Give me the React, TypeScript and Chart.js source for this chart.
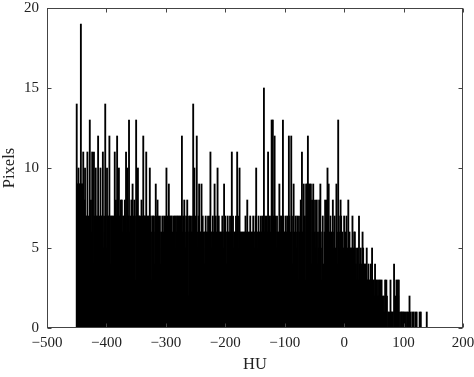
import React, { useEffect, useRef } from "react";
import { Chart, registerables } from "chart.js";

Chart.register(...registerables);

// Histogram of HU values, one bin per HU, first bin at HU -450
const binStart = -450;

// HU -450 .. -351
const countsA = [
  14, 9, 9, 10, 9, 9, 9, 19, 9, 9,
  9, 11, 7, 8, 10, 7, 3, 7, 11, 6,
  7, 5, 13, 7, 8, 6, 11, 7, 4, 11,
  7, 6, 10, 7, 5, 7, 12, 6, 7, 3,
  10, 7, 6, 7, 11, 5, 7, 6, 14, 7,
  5, 10, 7, 6, 7, 12, 7, 4, 7, 6,
  7, 5, 7, 6, 11, 7, 8, 7, 12, 6,
  7, 10, 7, 5, 8, 7, 8, 6, 7, 3,
  7, 8, 7, 11, 6, 10, 7, 7, 13, 6,
  7, 5, 8, 7, 9, 7, 6, 8, 7, 3,
];

// HU -350 .. -251
const countsB = [
  13, 7, 6, 10, 7, 7, 5, 7, 6, 8,
  7, 6, 12, 7, 7, 5, 7, 11, 6, 7,
  4, 7, 6, 10, 7, 6, 3, 7, 6, 7,
  7, 4, 6, 9, 7, 6, 8, 7, 4, 6,
  7, 4, 6, 5, 7, 4, 6, 7, 3, 6,
  7, 10, 6, 7, 5, 9, 7, 6, 7, 5,
  7, 6, 3, 7, 6, 7, 5, 7, 6, 7,
  6, 7, 4, 7, 6, 7, 5, 12, 6, 7,
  6, 8, 7, 5, 6, 7, 8, 6, 2, 7,
  6, 7, 5, 6, 7, 6, 14, 7, 10, 6,
];

// HU -250 .. -151
const countsC = [
  7, 6, 12, 5, 6, 7, 9, 6, 4, 6,
  9, 6, 7, 5, 6, 4, 6, 7, 6, 5,
  6, 7, 6, 3, 7, 11, 6, 5, 6, 7,
  6, 4, 9, 6, 7, 6, 5, 10, 6, 7,
  6, 5, 6, 2, 6, 7, 6, 5, 9, 6,
  7, 6, 4, 6, 7, 6, 5, 6, 7, 6,
  4, 11, 6, 7, 5, 6, 4, 6, 7, 6,
  11, 6, 5, 7, 10, 6, 4, 6, 5, 6,
  4, 6, 5, 6, 7, 4, 6, 8, 5, 6,
  4, 6, 7, 5, 6, 4, 6, 7, 6, 5,
];

// HU -150 .. -51
const countsD = [
  6, 7, 10, 6, 5, 6, 7, 6, 4, 6,
  7, 6, 5, 7, 6, 15, 6, 7, 4, 6,
  7, 6, 11, 6, 7, 4, 6, 7, 13, 6,
  13, 7, 6, 12, 7, 6, 5, 7, 6, 4,
  6, 9, 7, 6, 7, 5, 6, 13, 7, 6,
  4, 6, 7, 6, 5, 7, 6, 12, 7, 6,
  5, 12, 6, 4, 7, 9, 6, 3, 7, 6,
  5, 7, 6, 3, 7, 6, 5, 8, 6, 11,
  6, 4, 9, 6, 7, 3, 9, 6, 9, 12,
  9, 5, 9, 6, 9, 4, 8, 6, 9, 5,
];

// HU -50 .. 49
const countsE = [
  6, 8, 5, 6, 8, 4, 6, 5, 8, 6,
  9, 5, 3, 6, 7, 4, 2, 6, 8, 5,
  6, 8, 10, 5, 9, 6, 2, 7, 5, 6,
  3, 8, 5, 6, 7, 2, 5, 9, 6, 4,
  13, 7, 5, 6, 8, 7, 5, 6, 4, 5,
  7, 5, 6, 4, 7, 5, 3, 8, 5, 6,
  4, 5, 5, 4, 7, 3, 5, 6, 6, 4,
  5, 3, 4, 5, 3, 7, 4, 3, 5, 4,
  3, 6, 5, 3, 4, 3, 4, 3, 5, 3,
  3, 4, 3, 2, 3, 4, 3, 5, 3, 2,
];

// HU 50 .. 140
const countsF = [
  3, 2, 4, 3, 2, 3, 2, 3, 2, 3,
  2, 3, 2, 3, 1, 2, 1, 2, 1, 3,
  1, 3, 2, 0, 1, 0, 1, 0, 3, 1,
  1, 0, 1, 0, 4, 1, 2, 1, 3, 2,
  3, 2, 3, 0, 1, 0, 1, 1, 0, 1,
  1, 0, 1, 0, 1, 0, 1, 0, 1, 0,
  2, 0, 1, 0, 0, 1, 0, 1, 0, 0,
  1, 0, 1, 0, 0, 0, 0, 1, 0, 1,
  0, 0, 0, 0, 0, 0, 0, 0, 0, 1,
  0,
];

const xTicks = [-500, -400, -300, -200, -100, 0, 100, 200];
const yTicks = [0, 5, 10, 15, 20];
const xTitle = "HU";
const yTitle = "Pixels";

const FONT = "'Liberation Serif', 'Times New Roman', serif";

const fmt = (v: number) => (v < 0 ? "\u2212" + Math.abs(v) : String(v));

const framePlugin = {
  id: "frameTicks",
  afterDraw(chart: any) {
    const { ctx, chartArea } = chart;
    const xs = chart.scales.x;
    const ys = chart.scales.y;
    const L = Math.round(chartArea.left) + 0.5;
    const R = Math.round(chartArea.right) - 0.5;
    const T = Math.round(chartArea.top) + 0.5;
    const B = Math.round(chartArea.bottom) - 0.5;
    ctx.save();
    ctx.strokeStyle = "#444";
    ctx.lineWidth = 1;
    ctx.strokeRect(L, T, R - L, B - T);
    const len = 4;
    ctx.beginPath();
    xTicks.forEach((v) => {
      const px = Math.round(xs.getPixelForValue(v)) + 0.5;
      ctx.moveTo(px, B);
      ctx.lineTo(px, B - len);
      ctx.moveTo(px, T);
      ctx.lineTo(px, T + len);
    });
    yTicks.forEach((v) => {
      const py = Math.round(ys.getPixelForValue(v)) + 0.5;
      ctx.moveTo(L, py);
      ctx.lineTo(L + len, py);
      ctx.moveTo(R, py);
      ctx.lineTo(R - len, py);
    });
    ctx.stroke();
    ctx.restore();
  },
};

export default function App() {
  const ref = useRef<HTMLCanvasElement | null>(null);

  useEffect(() => {
    if (!ref.current) return;
    const counts = [
      ...countsA,
      ...countsB,
      ...countsC,
      ...countsD,
      ...countsE,
      ...countsF,
    ];
    const data = counts.map((y, i) => ({ x: binStart + i, y }));
    const chart = new Chart(ref.current, {
      type: "bar",
      data: {
        datasets: [
          {
            data: data as any,
            backgroundColor: "#000",
            borderWidth: 0,
            barThickness: 1.2,
          } as any,
        ],
      },
      options: {
        responsive: false,
        animation: false,
        devicePixelRatio: 1,
        layout: { padding: { left: 0, top: 8, right: 11, bottom: 0 } },
        plugins: {
          legend: { display: false },
          tooltip: { enabled: false },
        },
        scales: {
          x: {
            type: "linear",
            min: -500,
            max: 200,
            offset: false,
            grid: { display: false, drawTicks: false },
            border: { display: false },
            afterBuildTicks: (s: any) => {
              s.ticks = xTicks.map((v) => ({ value: v }));
            },
            afterFit: (s: any) => {
              s.height = 49;
              s.paddingLeft = 0;
              s.paddingRight = 0;
            },
            ticks: {
              padding: 6,
              color: "#222",
              font: { family: FONT, size: 15 },
              maxRotation: 0,
              autoSkip: false,
              callback: (v: any) => fmt(Number(v)),
            },
            title: {
              display: true,
              text: xTitle,
              color: "#222",
              font: { family: FONT, size: 16.5 },
              padding: { top: 2, bottom: 2 },
            },
          },
          y: {
            min: 0,
            max: 20,
            grid: { display: false, drawTicks: false },
            border: { display: false },
            afterBuildTicks: (s: any) => {
              s.ticks = yTicks.map((v) => ({ value: v }));
            },
            afterFit: (s: any) => {
              s.width = 47;
              s.paddingTop = 0;
              s.paddingBottom = 0;
            },
            ticks: {
              padding: 8,
              color: "#222",
              font: { family: FONT, size: 15 },
              callback: (v: any) => fmt(Number(v)),
            },
            title: {
              display: true,
              text: yTitle,
              color: "#222",
              font: { family: FONT, size: 16.5 },
              padding: { top: 0, bottom: 2 },
            },
          },
        },
      },
      plugins: [framePlugin],
    });
    return () => chart.destroy();
  }, []);

  return (
    <div style={{ position: "absolute", left: 0, top: 0, width: 474, height: 377, background: "#fff" }}>
      <canvas ref={ref} width={474} height={377} style={{ display: "block" }} />
    </div>
  );
}
